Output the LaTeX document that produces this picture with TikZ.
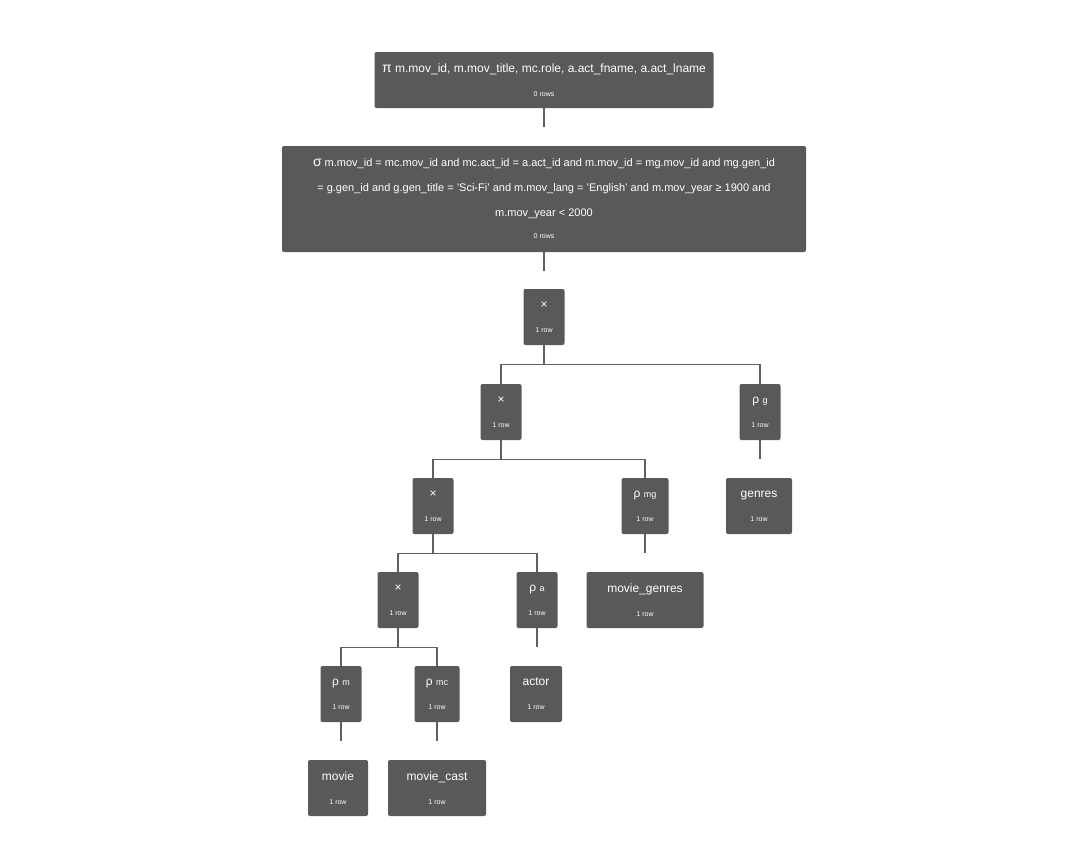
\documentclass[tikz,border=0pt]{standalone}
\usepackage{fontspec}
\setmainfont{Liberation Sans}
\definecolor{boxc}{HTML}{595959}
\definecolor{linec}{HTML}{606060}
\newcommand{\lab}[2]{{\fontsize{12}{14}\selectfont #1}\\[12pt]{\fontsize{7}{8}\selectfont #2}}
\begin{document}
\begin{tikzpicture}[x=1pt,y=-1pt,
  box/.style={fill=boxc,text=white,rounded corners=2pt,inner sep=0pt,align=center,minimum height=56pt},
  conn/.style={draw=linec,line width=1.3pt}]
\useasboundingbox (0,0) rectangle (1078,841);
\node[box,minimum width=339pt] (pi) at (544,80) {\lab{{\fontsize{14}{14}\selectfont π} m.mov\_id, m.mov\_title, mc.role, a.act\_fname, a.act\_lname}{0 rows}};
\node[box,minimum width=524pt,minimum height=106pt] (sigma) at (544,199) {{\fontsize{11}{13}\selectfont {\fontsize{14}{14}\selectfont σ} m.mov\_id = mc.mov\_id and mc.act\_id = a.act\_id and m.mov\_id = mg.mov\_id and mg.gen\_id}\\[13pt]
{\fontsize{11}{13}\selectfont = g.gen\_id and g.gen\_title = 'Sci-Fi' and m.mov\_lang = 'English' and m.mov\_year ≥ 1900 and}\\[13pt]
{\fontsize{11}{13}\selectfont m.mov\_year < 2000}\\[10pt]{\fontsize{7}{8}\selectfont 0 rows}};
\node[box,minimum width=41pt] (x1) at (544,317) {\lab{×}{1 row}};
\node[box,minimum width=41pt] (x2) at (501,412) {\lab{×}{1 row}};
\node[box,minimum width=41pt] (rg) at (760,412) {\lab{ρ {\fontsize{9}{9}\selectfont g}}{1 row}};
\node[box,minimum width=41pt] (x3) at (433,506) {\lab{×}{1 row}};
\node[box,minimum width=47pt] (rmg) at (645,506) {\lab{ρ {\fontsize{9}{9}\selectfont mg}}{1 row}};
\node[box,minimum width=66pt] (genres) at (759,506) {\lab{genres}{1 row}};
\node[box,minimum width=41pt] (x4) at (398,600) {\lab{×}{1 row}};
\node[box,minimum width=41pt] (ra) at (537,600) {\lab{ρ {\fontsize{9}{9}\selectfont a}}{1 row}};
\node[box,minimum width=117pt] (mg) at (645,600) {\lab{movie\_genres}{1 row}};
\node[box,minimum width=41pt] (rm) at (341,694) {\lab{ρ {\fontsize{9}{9}\selectfont m}}{1 row}};
\node[box,minimum width=45pt] (rmc) at (437,694) {\lab{ρ {\fontsize{9}{9}\selectfont mc}}{1 row}};
\node[box,minimum width=52pt] (actor) at (536,694) {\lab{actor}{1 row}};
\node[box,minimum width=60pt] (movie) at (338,788) {\lab{movie}{1 row}};
\node[box,minimum width=98pt] (mcast) at (437,788) {\lab{movie\_cast}{1 row}};
% single-child stubs
\foreach \n in {pi,sigma,rg,rmg,ra,rm,rmc} \draw[conn] (\n.south) -- ++(0,19);
% branches
\draw[conn] (x1.south) -- ++(0,19) -| (x2.north);
\draw[conn] (x1.south) ++(0,19) -| (rg.north);
\draw[conn] (x2.south) -- ++(0,19) -| (x3.north);
\draw[conn] (x2.south) ++(0,19) -| (rmg.north);
\draw[conn] (x3.south) -- ++(0,19) -| (x4.north);
\draw[conn] (x3.south) ++(0,19) -| (ra.north);
\draw[conn] (x4.south) -- ++(0,19) -| (rm.north);
\draw[conn] (x4.south) ++(0,19) -| (rmc.north);
\end{tikzpicture}
\end{document}
